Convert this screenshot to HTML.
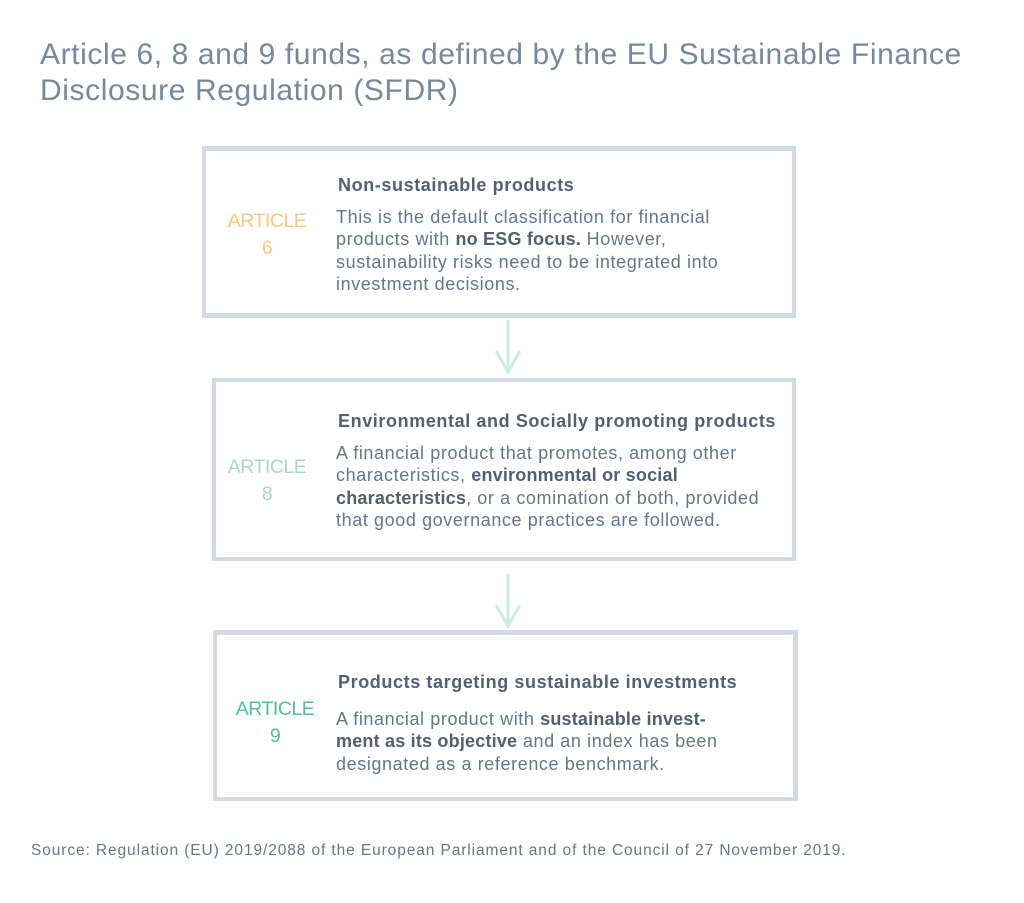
<!DOCTYPE html>
<html><head><meta charset="utf-8"><style>
body{margin:0;width:1024px;height:903px;background:#fff;position:relative;overflow:hidden;font-family:"Liberation Sans",sans-serif}
.t{position:absolute;left:40px;top:37px;font-size:30px;letter-spacing:0.6px;line-height:36px;color:#7b8699;white-space:nowrap}
.box{position:absolute;box-sizing:border-box;border:4px solid #d6d9e0;background:#fff}
.art{position:absolute;width:100px;text-align:center;font-size:19.5px;line-height:27px;letter-spacing:-0.5px}
.h{position:absolute;font-weight:bold;font-size:18px;letter-spacing:0.6px;color:#565f6e;white-space:nowrap}
.p{position:absolute;font-size:18px;letter-spacing:0.6px;line-height:22.3px;color:#6b7484;white-space:nowrap}
.p b{color:#555e6d;letter-spacing:0.2px}
.src{position:absolute;left:31px;top:842px;font-size:15.5px;letter-spacing:0.9px;color:#6b7484;white-space:nowrap}
</style></head><body>
<div class="t">Article 6, 8 and 9 funds, as defined by the EU Sustainable Finance<br>Disclosure Regulation (SFDR)</div>

<div class="box" style="left:202px;top:146px;width:594px;height:172px;border-top-width:5px;border-bottom-width:5px"></div>
<div class="art" style="left:217px;top:208px;color:#f9c87a">ARTICLE<br>6</div>
<div class="h" style="left:338px;top:175px">Non-sustainable products</div>
<div class="p" style="left:336px;top:206px">This is the default classification for financial<br>products with <b>no ESG focus.</b> However,<br>sustainability risks need to be integrated into<br>investment decisions.</div>

<svg style="position:absolute;left:490px;top:318px" width="36" height="58"><path d="M18 2 V52 M6 33 L18 54 L30 33" stroke="#cfeadf" stroke-width="3" fill="none"/></svg>

<div class="box" style="left:212px;top:378px;width:584px;height:183px"></div>
<div class="art" style="left:217px;top:454px;color:#a9d9c5">ARTICLE<br>8</div>
<div class="h" style="left:338px;top:411px">Environmental and Socially promoting products</div>
<div class="p" style="left:336px;top:442px">A financial product that promotes, among other<br>characteristics, <b>environmental or social<br>characteristics</b>, or a comination of both, provided<br>that good governance practices are followed.</div>

<svg style="position:absolute;left:490px;top:572px" width="36" height="58"><path d="M18 2 V52 M6 33 L18 54 L30 33" stroke="#cfeadf" stroke-width="3" fill="none"/></svg>

<div class="box" style="left:213px;top:630px;width:585px;height:171px;border-top-width:5px;border-right-width:5px"></div>
<div class="art" style="left:225px;top:696px;color:#4fbf9f">ARTICLE<br>9</div>
<div class="h" style="left:338px;top:672px">Products targeting sustainable investments</div>
<div class="p" style="left:336px;top:708px">A financial product with <b>sustainable invest-<br>ment as its objective</b> and an index has been<br>designated as a reference benchmark.</div>

<div class="src">Source: Regulation (EU) 2019/2088 of the European Parliament and of the Council of 27 November 2019.</div>
</body></html>
